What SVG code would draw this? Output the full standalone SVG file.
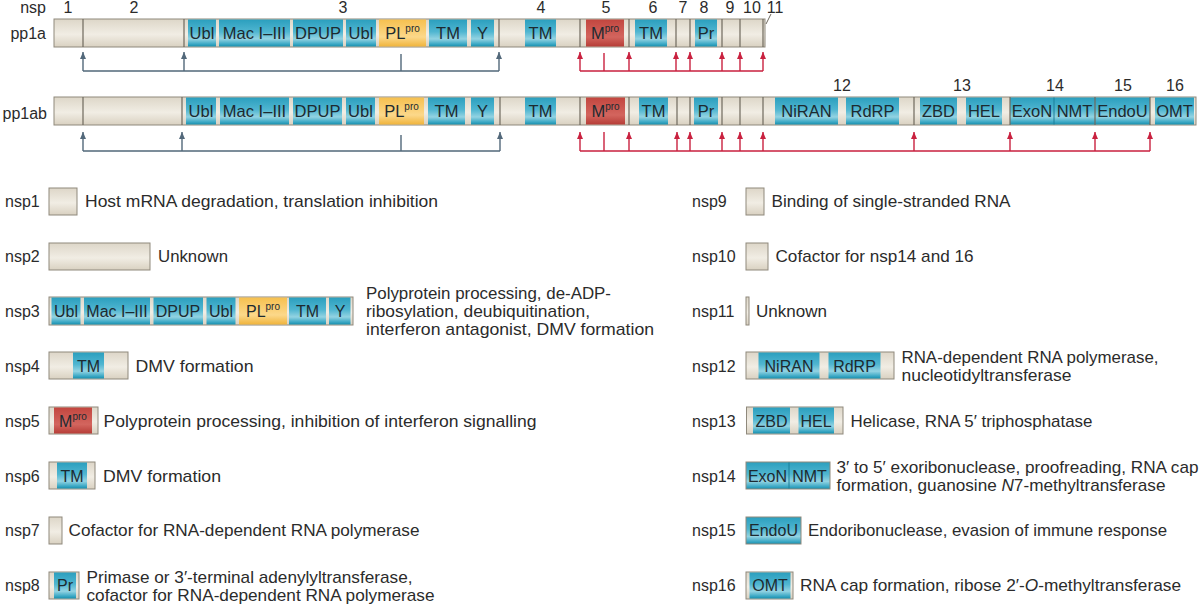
<svg xmlns="http://www.w3.org/2000/svg" width="1200" height="604" viewBox="0 0 1200 604">
<defs>
<linearGradient id="gB" x1="0" y1="0" x2="0" y2="1">
<stop offset="0" stop-color="#ddd6c8"/><stop offset="0.55" stop-color="#f1ede4"/><stop offset="1" stop-color="#d9d1c1"/>
</linearGradient>
<linearGradient id="gT" x1="0" y1="0" x2="0" y2="1">
<stop offset="0" stop-color="#2b9fbe"/><stop offset="0.45" stop-color="#4fb5d0"/><stop offset="0.72" stop-color="#93d3e2"/><stop offset="0.9" stop-color="#3faac6"/><stop offset="1" stop-color="#178fae"/>
</linearGradient>
<linearGradient id="gY" x1="0" y1="0" x2="0" y2="1">
<stop offset="0" stop-color="#f6c04f"/><stop offset="0.65" stop-color="#fcd88a"/><stop offset="1" stop-color="#f0b43c"/>
</linearGradient>
<linearGradient id="gR" x1="0" y1="0" x2="0" y2="1">
<stop offset="0" stop-color="#c2463f"/><stop offset="0.65" stop-color="#d3655e"/><stop offset="1" stop-color="#b63d37"/>
</linearGradient>
<marker id="aS" viewBox="0 0 7 6" refX="7" refY="3" markerWidth="7" markerHeight="6" orient="auto" markerUnits="userSpaceOnUse"><path d="M0,0 L7,3 L0,6 z" fill="#52687a"/></marker>
<marker id="aR" viewBox="0 0 7 6" refX="7" refY="3" markerWidth="7" markerHeight="6" orient="auto" markerUnits="userSpaceOnUse"><path d="M0,0 L7,3 L0,6 z" fill="#c9213f"/></marker>
</defs>
<style>
text{font-family:"Liberation Sans",Arial,sans-serif;fill:#2b2b2b}
.lab{font-size:16px}
.num{font-size:16px;text-anchor:middle}
.dom{font-size:16.5px;text-anchor:middle;fill:#1d2a30}
.ldom{font-size:16px;text-anchor:middle;fill:#1d2a30}
.desc{font-size:17px}
.sup{font-size:10px}
.b{fill:url(#gB);stroke:#8f897c;stroke-width:1}
.t{fill:url(#gT)}
.tb{fill:url(#gT);stroke:#8f897c;stroke-width:1}
.y{fill:url(#gY)}
.r{fill:url(#gR)}
.sep{stroke:#6f695e;stroke-width:1.2}
.cs{stroke:#52687a;stroke-width:1.4;fill:none}
.cr{stroke:#c9213f;stroke-width:1.4;fill:none}
</style>

<g id="header-labels">
<text class="lab" x="46" y="13" text-anchor="end">nsp</text>
<text class="num" x="68" y="13">1</text>
<text class="num" x="134" y="13">2</text>
<text class="num" x="343" y="13">3</text>
<text class="num" x="541" y="13">4</text>
<text class="num" x="606" y="13">5</text>
<text class="num" x="653" y="13">6</text>
<text class="num" x="683" y="13">7</text>
<text class="num" x="704" y="13">8</text>
<text class="num" x="730" y="13">9</text>
<text class="num" x="752" y="13">10</text>
<text class="num" x="775" y="13">11</text>
<polyline points="771,14 766,24" stroke="#6f695e" stroke-width="1" fill="none"/>
<text class="num" x="842" y="91">12</text>
<text class="num" x="962" y="91">13</text>
<text class="num" x="1055" y="91">14</text>
<text class="num" x="1123" y="91">15</text>
<text class="num" x="1175" y="91">16</text>
</g>

<g id="pp1a">
<text class="lab" x="46" y="39" text-anchor="end">pp1a</text>
<rect class="b" x="54" y="19" width="711" height="28"/>
<rect class="t" x="188" y="19.5" width="28" height="27"/>
<rect class="t" x="219" y="19.5" width="71" height="27"/>
<rect class="t" x="293" y="19.5" width="50" height="27"/>
<rect class="t" x="346" y="19.5" width="30" height="27"/>
<rect class="y" x="379" y="19.5" width="47" height="27"/>
<rect class="t" x="429" y="19.5" width="38" height="27"/>
<rect class="t" x="471" y="19.5" width="23" height="27"/>
<rect class="t" x="525" y="19.5" width="31" height="27"/>
<rect class="r" x="586" y="19.5" width="38" height="27"/>
<rect class="t" x="635" y="19.5" width="32" height="27"/>
<rect class="t" x="695" y="19.5" width="22" height="27"/>
<path class="sep" d="M83,19V47M184,19V47M499,19V47M580,19V47M629,19V47M676,19V47M690,19V47M722,19V47M740,19V47M763,19V47"/>
<text class="dom" x="202" y="39">Ubl</text>
<text class="dom" x="254.5" y="39">Mac I–III</text>
<text class="dom" x="318" y="39">DPUP</text>
<text class="dom" x="361" y="39">Ubl</text>
<text class="dom" x="402.5" y="39"><tspan>PL</tspan><tspan class="sup" dy="-7">pro</tspan></text>
<text class="dom" x="448" y="39">TM</text>
<text class="dom" x="482.5" y="39">Y</text>
<text class="dom" x="540.5" y="39">TM</text>
<text class="dom" x="605" y="39"><tspan>M</tspan><tspan class="sup" dy="-7">pro</tspan></text>
<text class="dom" x="651" y="39">TM</text>
<text class="dom" x="706" y="39">Pr</text>
</g>

<g id="pp1ab">
<text class="lab" x="47" y="119" text-anchor="end">pp1ab</text>
<rect class="b" x="54" y="97" width="1142" height="28"/>
<rect class="t" x="186" y="97.5" width="30" height="27"/>
<rect class="t" x="220" y="97.5" width="69" height="27"/>
<rect class="t" x="293" y="97.5" width="49" height="27"/>
<rect class="t" x="346" y="97.5" width="29" height="27"/>
<rect class="y" x="379" y="97.5" width="45" height="27"/>
<rect class="t" x="428" y="97.5" width="37" height="27"/>
<rect class="t" x="471" y="97.5" width="23" height="27"/>
<rect class="t" x="525" y="97.5" width="31" height="27"/>
<rect class="r" x="586" y="97.5" width="39" height="27"/>
<rect class="t" x="639" y="97.5" width="29" height="27"/>
<rect class="t" x="694" y="97.5" width="24" height="27"/>
<rect class="t" x="775" y="97.5" width="63" height="27"/>
<rect class="t" x="846" y="97.5" width="53" height="27"/>
<rect class="t" x="920" y="97.5" width="37" height="27"/>
<rect class="t" x="966" y="97.5" width="36" height="27"/>
<rect class="t" x="1010" y="97.5" width="85" height="27"/>
<rect class="t" x="1095" y="97.5" width="55" height="27"/>
<rect class="t" x="1155" y="97.5" width="39" height="27"/>
<path class="sep" d="M83,97V125M182,97V125M500,97V125M580,97V125M629,97V125M677,97V125M690,97V125M722,97V125M740,97V125M763,97V125M914,97V125M1010,97V125M1095,97V125M1150,97V125"/>
<path d="M1054,97.5V124.5" stroke="#1a7f99" stroke-width="1"/>
<text class="dom" x="201" y="117">Ubl</text>
<text class="dom" x="254.5" y="117">Mac I–III</text>
<text class="dom" x="317.5" y="117">DPUP</text>
<text class="dom" x="360.5" y="117">Ubl</text>
<text class="dom" x="401.5" y="117"><tspan>PL</tspan><tspan class="sup" dy="-7">pro</tspan></text>
<text class="dom" x="446.5" y="117">TM</text>
<text class="dom" x="482.5" y="117">Y</text>
<text class="dom" x="540.5" y="117">TM</text>
<text class="dom" x="605.5" y="117"><tspan>M</tspan><tspan class="sup" dy="-7">pro</tspan></text>
<text class="dom" x="653.5" y="117">TM</text>
<text class="dom" x="706" y="117">Pr</text>
<text class="dom" x="806.5" y="117">NiRAN</text>
<text class="dom" x="872.5" y="117">RdRP</text>
<text class="dom" x="938.5" y="117">ZBD</text>
<text class="dom" x="984" y="117">HEL</text>
<text class="dom" x="1032" y="117">ExoN</text>
<text class="dom" x="1074.5" y="117">NMT</text>
<text class="dom" x="1122.5" y="117">EndoU</text>
<text class="dom" x="1174.5" y="117">OMT</text>
</g>

<g id="connectors">
<path class="cs" d="M83,71H499M401,54V71"/>
<line class="cs" x1="83" y1="71" x2="83" y2="52" marker-end="url(#aS)"/>
<line class="cs" x1="184" y1="71" x2="184" y2="52" marker-end="url(#aS)"/>
<line class="cs" x1="499" y1="71" x2="499" y2="52" marker-end="url(#aS)"/>
<path class="cr" d="M580,71H763M604,53V71"/>
<line class="cr" x1="580" y1="71" x2="580" y2="52" marker-end="url(#aR)"/>
<line class="cr" x1="629" y1="71" x2="629" y2="52" marker-end="url(#aR)"/>
<line class="cr" x1="676" y1="71" x2="676" y2="52" marker-end="url(#aR)"/>
<line class="cr" x1="690" y1="71" x2="690" y2="52" marker-end="url(#aR)"/>
<line class="cr" x1="722" y1="71" x2="722" y2="52" marker-end="url(#aR)"/>
<line class="cr" x1="740" y1="71" x2="740" y2="52" marker-end="url(#aR)"/>
<line class="cr" x1="763" y1="71" x2="763" y2="52" marker-end="url(#aR)"/>
<path class="cs" d="M83,151H500M401,135V151"/>
<line class="cs" x1="83" y1="151" x2="83" y2="132" marker-end="url(#aS)"/>
<line class="cs" x1="182" y1="151" x2="182" y2="132" marker-end="url(#aS)"/>
<line class="cs" x1="500" y1="151" x2="500" y2="132" marker-end="url(#aS)"/>
<path class="cr" d="M580,151H1150M604,132V151"/>
<line class="cr" x1="580" y1="151" x2="580" y2="132" marker-end="url(#aR)"/>
<line class="cr" x1="629" y1="151" x2="629" y2="132" marker-end="url(#aR)"/>
<line class="cr" x1="677" y1="151" x2="677" y2="132" marker-end="url(#aR)"/>
<line class="cr" x1="690" y1="151" x2="690" y2="132" marker-end="url(#aR)"/>
<line class="cr" x1="722" y1="151" x2="722" y2="132" marker-end="url(#aR)"/>
<line class="cr" x1="740" y1="151" x2="740" y2="132" marker-end="url(#aR)"/>
<line class="cr" x1="763" y1="151" x2="763" y2="132" marker-end="url(#aR)"/>
<line class="cr" x1="914" y1="151" x2="914" y2="132" marker-end="url(#aR)"/>
<line class="cr" x1="1010" y1="151" x2="1010" y2="132" marker-end="url(#aR)"/>
<line class="cr" x1="1095" y1="151" x2="1095" y2="132" marker-end="url(#aR)"/>
<line class="cr" x1="1150" y1="151" x2="1150" y2="132" marker-end="url(#aR)"/>
</g>

<g id="legend-nsp1">
<text class="lab" x="5" y="207">nsp1</text>
<rect class="b" x="49" y="188" width="28" height="27"/>
<text class="desc" x="85" y="207" textLength="353" lengthAdjust="spacingAndGlyphs">Host mRNA degradation, translation inhibition</text>
</g>
<g id="legend-nsp2">
<text class="lab" x="5" y="262">nsp2</text>
<rect class="b" x="49" y="243" width="101" height="27"/>
<text class="desc" x="158" y="262" textLength="70" lengthAdjust="spacingAndGlyphs">Unknown</text>
</g>
<g id="legend-nsp3">
<text class="lab" x="5" y="317">nsp3</text>
<rect class="b" x="49" y="297" width="304" height="28"/>
<rect class="t" x="51.5" y="297.5" width="29" height="27"/>
<rect class="t" x="84" y="297.5" width="66" height="27"/>
<rect class="t" x="153.5" y="297.5" width="49.5" height="27"/>
<rect class="t" x="206.5" y="297.5" width="29" height="27"/>
<rect class="y" x="239" y="297.5" width="48" height="27"/>
<rect class="t" x="289" y="297.5" width="37" height="27"/>
<rect class="t" x="329" y="297.5" width="21.5" height="27"/>
<text class="ldom" x="66" y="317">Ubl</text>
<text class="ldom" x="117" y="317">Mac I–III</text>
<text class="ldom" x="178" y="317">DPUP</text>
<text class="ldom" x="221" y="317">Ubl</text>
<text class="ldom" x="263" y="317"><tspan>PL</tspan><tspan class="sup" dy="-7">pro</tspan></text>
<text class="ldom" x="307.5" y="317">TM</text>
<text class="ldom" x="340" y="317">Y</text>
<text class="desc" x="366" y="299" textLength="245" lengthAdjust="spacingAndGlyphs">Polyprotein processing, de-ADP-</text>
<text class="desc" x="366" y="317" textLength="224" lengthAdjust="spacingAndGlyphs">ribosylation, deubiquitination,</text>
<text class="desc" x="366" y="335" textLength="288" lengthAdjust="spacingAndGlyphs">interferon antagonist, DMV formation</text>
</g>
<g id="legend-nsp4">
<text class="lab" x="5" y="372">nsp4</text>
<rect class="b" x="49" y="352" width="79" height="27"/>
<rect class="t" x="73" y="352.5" width="31" height="26"/>
<text class="ldom" x="88.5" y="372">TM</text>
<text class="desc" x="135.5" y="372" textLength="118" lengthAdjust="spacingAndGlyphs">DMV formation</text>
</g>
<g id="legend-nsp5">
<text class="lab" x="5" y="427">nsp5</text>
<rect class="b" x="49" y="407" width="49" height="27"/>
<rect class="r" x="54" y="407.5" width="38" height="26"/>
<text class="ldom" x="73" y="427"><tspan>M</tspan><tspan class="sup" dy="-7">pro</tspan></text>
<text class="desc" x="103.5" y="427" textLength="433" lengthAdjust="spacingAndGlyphs">Polyprotein processing, inhibition of interferon signalling</text>
</g>
<g id="legend-nsp6">
<text class="lab" x="5" y="482">nsp6</text>
<rect class="b" x="49" y="462" width="46" height="27"/>
<rect class="t" x="57" y="462.5" width="30" height="26"/>
<text class="ldom" x="72" y="482">TM</text>
<text class="desc" x="103" y="482" textLength="118" lengthAdjust="spacingAndGlyphs">DMV formation</text>
</g>
<g id="legend-nsp7">
<text class="lab" x="5" y="536">nsp7</text>
<rect class="b" x="49" y="517" width="13" height="27"/>
<text class="desc" x="68.5" y="536" textLength="351" lengthAdjust="spacingAndGlyphs">Cofactor for RNA-dependent RNA polymerase</text>
</g>
<g id="legend-nsp8">
<text class="lab" x="5" y="591">nsp8</text>
<rect class="b" x="49" y="572" width="30" height="27"/>
<rect class="t" x="54" y="572.5" width="22" height="26"/>
<text class="ldom" x="65" y="591">Pr</text>
<text class="desc" x="86.5" y="583" textLength="326" lengthAdjust="spacingAndGlyphs">Primase or 3′-terminal adenylyltransferase,</text>
<text class="desc" x="86.5" y="601" textLength="348" lengthAdjust="spacingAndGlyphs">cofactor for RNA-dependent RNA polymerase</text>
</g>

<g id="legend-nsp9">
<text class="lab" x="692" y="207">nsp9</text>
<rect class="b" x="746" y="188" width="18" height="27"/>
<text class="desc" x="771.5" y="207" textLength="239" lengthAdjust="spacingAndGlyphs">Binding of single-stranded RNA</text>
</g>
<g id="legend-nsp10">
<text class="lab" x="692" y="262">nsp10</text>
<rect class="b" x="746" y="243" width="22" height="27"/>
<text class="desc" x="775.5" y="262" textLength="198" lengthAdjust="spacingAndGlyphs">Cofactor for nsp14 and 16</text>
</g>
<g id="legend-nsp11">
<text class="lab" x="692" y="317">nsp11</text>
<rect class="b" x="746" y="297" width="3" height="28"/>
<text class="desc" x="756" y="317" textLength="71" lengthAdjust="spacingAndGlyphs">Unknown</text>
</g>
<g id="legend-nsp12">
<text class="lab" x="692" y="372">nsp12</text>
<rect class="b" x="746" y="352" width="148" height="27"/>
<rect class="t" x="758.5" y="352.5" width="61" height="26"/>
<rect class="t" x="828.5" y="352.5" width="52" height="26"/>
<text class="ldom" x="789" y="372">NiRAN</text>
<text class="ldom" x="854.5" y="372">RdRP</text>
<text class="desc" x="901.5" y="363" textLength="257" lengthAdjust="spacingAndGlyphs">RNA-dependent RNA polymerase,</text>
<text class="desc" x="901.5" y="381" textLength="170" lengthAdjust="spacingAndGlyphs">nucleotidyltransferase</text>
</g>
<g id="legend-nsp13">
<text class="lab" x="692" y="427">nsp13</text>
<rect class="b" x="746.5" y="407" width="96.5" height="27"/>
<rect class="t" x="753" y="407.5" width="37" height="26"/>
<rect class="t" x="798.5" y="407.5" width="35.5" height="26"/>
<text class="ldom" x="771.5" y="427">ZBD</text>
<text class="ldom" x="816" y="427">HEL</text>
<text class="desc" x="850.5" y="427" textLength="242" lengthAdjust="spacingAndGlyphs">Helicase, RNA 5′ triphosphatase</text>
</g>
<g id="legend-nsp14">
<text class="lab" x="692" y="482">nsp14</text>
<rect class="tb" x="746" y="462" width="84" height="27"/>
<path d="M789,462.5V488.5" stroke="#1a7f99" stroke-width="1"/>
<text class="ldom" x="767.5" y="482">ExoN</text>
<text class="ldom" x="809.5" y="482">NMT</text>
<text class="desc" x="836.5" y="473" textLength="362" lengthAdjust="spacingAndGlyphs">3′ to 5′ exoribonuclease, proofreading, RNA cap</text>
<text class="desc" x="836.5" y="491" textLength="329" lengthAdjust="spacingAndGlyphs">formation, guanosine <tspan font-style="italic">N</tspan>7-methyltransferase</text>
</g>
<g id="legend-nsp15">
<text class="lab" x="692" y="536">nsp15</text>
<rect class="tb" x="746" y="517" width="55" height="27"/>
<text class="ldom" x="773.5" y="536">EndoU</text>
<text class="desc" x="808" y="536" textLength="359" lengthAdjust="spacingAndGlyphs">Endoribonuclease, evasion of immune response</text>
</g>
<g id="legend-nsp16">
<text class="lab" x="692" y="591">nsp16</text>
<rect class="b" x="746" y="572" width="47" height="27"/>
<rect class="t" x="749.5" y="572.5" width="41" height="26"/>
<text class="ldom" x="770" y="591">OMT</text>
<text class="desc" x="800" y="591" textLength="381" lengthAdjust="spacingAndGlyphs">RNA cap formation, ribose 2′-<tspan font-style="italic">O</tspan>-methyltransferase</text>
</g>
</svg>
